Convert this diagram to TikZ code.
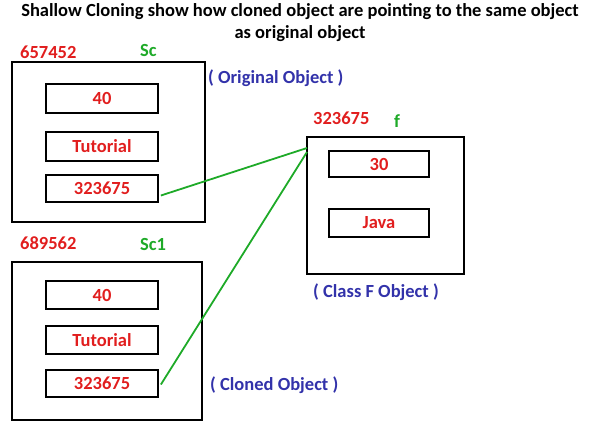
\documentclass[tikz,border=0pt]{standalone}
\usepackage{fontspec}
\setmainfont{Carlito}
\begin{document}
\begin{tikzpicture}[x=1pt,y=-1pt,
  outer/.style={draw,line width=2pt},
  inner/.style={draw,line width=1.8pt,text=myred,font=\bfseries\fontsize{18.5}{20}\selectfont},
  lbl/.style={font=\bfseries\fontsize{18.5}{20}\selectfont,anchor=west,inner sep=0pt},
  conn/.style={draw=mygreen,line width=1.8pt}]
\definecolor{myred}{RGB}{225,30,30}
\definecolor{mygreen}{RGB}{30,170,40}
\definecolor{myblue}{RGB}{50,50,170}
\useasboundingbox (0,0) rectangle (600,423);
\node[font=\bfseries\fontsize{18.5}{20}\selectfont] (t1) at (300,12) {Shallow Cloning show how cloned object are pointing to the same object};
\node[font=\bfseries\fontsize{18.5}{20}\selectfont] (t2) at (300,34) {as original object};
% box 1
\draw[outer] (12,62) rectangle (205,222);
\node[inner,minimum width=112pt,minimum height=29pt] (a1) at (102,98.5) {40};
\node[inner,minimum width=112pt,minimum height=29pt] (a2) at (102,146.5) {Tutorial};
\node[inner,minimum width=112pt,minimum height=27pt] (a3) at (102,188.5) {323675};
\node[lbl,text=myred] (l1) at (20,52) {657452};
\node[lbl,text=mygreen] (s1) at (140,51) {Sc};
\node[lbl,text=myblue] (o1) at (208,78) {( Original Object )};
% box 2
\draw[outer] (12,262) rectangle (202,420);
\node[inner,minimum width=112pt,minimum height=28pt] (b1) at (102,295) {40};
\node[inner,minimum width=112pt,minimum height=28pt] (b2) at (102,340) {Tutorial};
\node[inner,minimum width=112pt,minimum height=27pt] (b3) at (102,383.5) {323675};
\node[lbl,text=myred] (l2) at (20,243) {689562};
\node[lbl,text=mygreen] (s2) at (140,244) {Sc1};
\node[lbl,text=myblue] (o2) at (210,385) {( Cloned Object )};
% box 3
\node[outer,minimum width=157pt,minimum height=137pt] (f) at (385.5,205.5) {};
\node[inner,minimum width=100pt,minimum height=26pt] (c1) at (379,164) {30};
\node[inner,minimum width=100pt,minimum height=28pt] (c2) at (379,223) {Java};
\node[lbl,text=myred] (l3) at (313,118) {323675};
\node[lbl,text=mygreen] (s3) at (394,121) {f};
\node[lbl,text=myblue] (o3) at (313,292) {( Class F Object )};
\coordinate (p1) at (307,148);
\coordinate (p2) at (307,152);
\draw[conn] (a3.east) ++(2,7) -- (p1);
\draw[conn] (b3.east) ++(2,1) -- (p2);
\end{tikzpicture}
\end{document}
